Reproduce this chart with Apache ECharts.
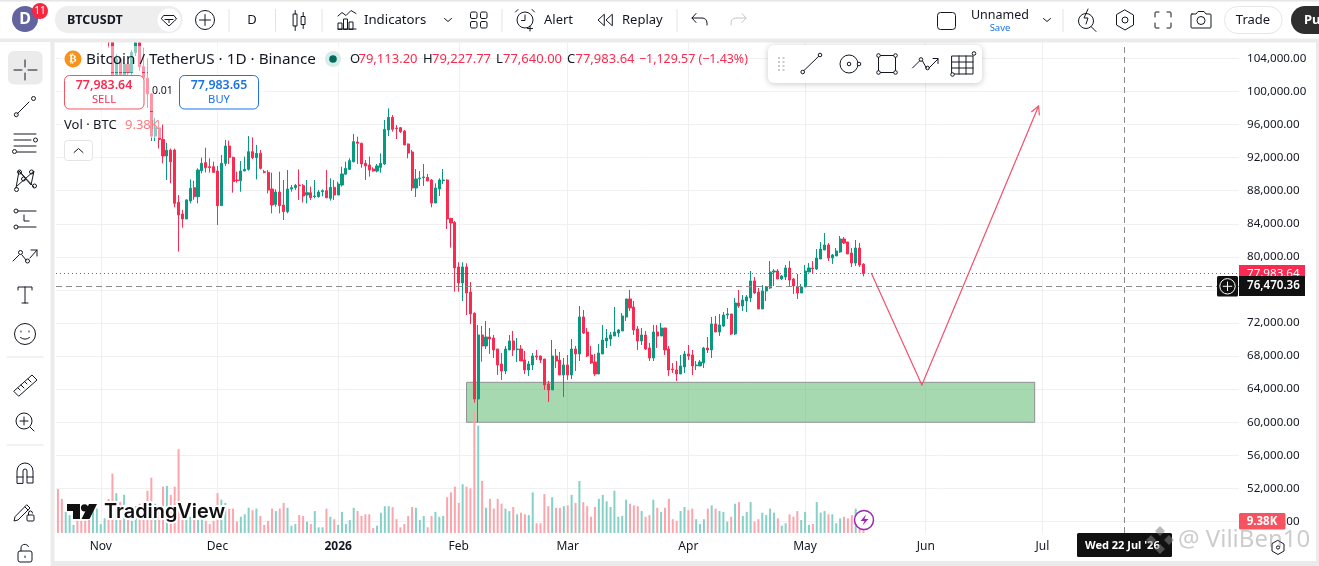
<!DOCTYPE html>
<html><head><meta charset="utf-8"><title>BTCUSDT</title>
<style>html,body{margin:0;padding:0;background:#fff;overflow:hidden}#c{width:1319px;height:566px}</style>
<script src="https://cdn.jsdelivr.net/npm/echarts@6/dist/echarts.min.js"></script></head>
<body><div id="c"></div>
<script>
const firstDay = '2025-10-21';
const dayCount = 304;
const opens = [
110600,108400,107500,110000,111000,111700,114900,114100,112900,108300,
109600,110100,110500,110600,106500,101500,103900,101300,103300,102300,
104700,105900,103000,101600,99700,94600,95600,94200,92200,92900,
92920,86590,85180,84580,86760,88370,87280,90420,91390,90900,
90900,90380,86190,91310,93400,92030,89290,89210,90380,90580,
92720,91990,92520,90300,90220,88200,86350,87840,86270,85470,
88200,88370,88690,88610,87480,87760,87280,87280,87880,88000,
87080,88410,87480,88690,90000,90580,91500,93890,93730,91310,
91110,90620,90380,90820,91230,95340,96870,95580,95620,95220,
93650,92680,88330,89450,89580,89620,89295,86510,88210,89215,
89295,84660,84175,78780,76840,78780,75750,73175,62815,70555,
69225,70310,70190,68860,67050,66200,68740,69830,68780,68860,
67530,66320,66930,68015,68015,67650,64630,63905,68015,67530,
65720,66930,65720,68860,68255,72730,70910,68135,67290,65840,
68260,69830,70070,70435,70795,71040,72730,74910,73940,71280,
69830,70555,68980,67775,70915,70435,71400,68860,66445,66320,
65840,66685,68255,68135,66845,66810,67170,68980,68740,71885,
70915,71640,72970,73095,70675,74425,74060,74665,75030,77085,
75750,73700,75875,76235,78170,78290,77325,77565,78655,77325,
76358,75630,76360,78170,78655,78535,79740,80830,81435,79865,
80105,80590,82160,81800,80470,79260,81070,79113.2];
const highs = [
113900,109000,111200,112000,111900,111950,115500,116400,113600,111500,
111000,111200,111000,110800,107200,104500,104200,104000,103500,105000,
106600,107500,105300,104000,99800,96800,96500,96000,93800,93100,
93080,87480,85670,86960,89370,89200,90700,91990,93200,91910,
91510,90990,92320,94130,94050,92115,90300,91590,92115,94610,
94450,93530,92920,90500,90500,90180,88170,90300,89290,90500,
88690,88800,90580,88800,89290,88500,89290,88085,88170,90500,
89500,89290,89090,90900,91510,91910,94860,94530,93810,91710,
92115,90830,91230,92520,96550,97960,97150,95940,95700,95340,
93700,92920,90620,90380,91230,90020,89400,88890,89495,90620,
89380,84700,84340,79340,79340,79220,76960,73295,71760,71640,
72250,71400,70555,68860,68380,69225,70555,71040,70190,69345,
68620,67410,68380,68740,68050,67650,64995,69950,68860,68500,
67775,68135,70070,69225,74060,73575,71400,69225,68260,69465,
71760,71280,70915,73940,71280,73215,74910,75995,74665,71640,
71400,71040,69590,71765,71765,72005,71400,69225,67170,67410,
68135,68620,69345,68740,67410,67530,69105,70310,72730,72850,
73095,73335,73820,73095,75030,75995,75390,75390,78290,77565,
76235,76600,76480,79500,78530,78530,77810,79020,79500,77445,
77930,76720,79020,79260,79500,80950,81800,82885,81675,80345,
81070,82525,82400,81800,81070,82040,81675,79227.77];
const lows = [
107500,106800,107400,109700,110900,110800,113500,112500,109700,106300,
108300,109500,109700,105300,99000,98900,100300,99300,101500,101300,
104300,102500,100800,98000,94000,94000,93100,91300,89300,88900,
86000,80630,83530,84580,86470,86900,86470,90100,90220,90180,
90180,83850,86190,90990,91230,87760,88970,87880,90380,90420,
91830,89370,90580,90100,87680,85260,86070,85260,84460,85260,
87880,88100,86880,86590,86470,86880,87080,87160,87320,87080,
86800,86880,87480,88490,89950,90500,91430,91230,90780,89290,
89700,90300,90220,90180,91110,94610,95140,94250,94990,93530,
91910,87960,87240,88570,88570,89175,85990,86510,87360,88810,
83370,81110,75790,75790,74660,72970,71880,62370,60000,67330,
68860,68260,67775,65720,65115,65840,68740,68015,67290,67410,
65840,65600,66320,67530,67170,63905,62455,63905,66565,65720,
63060,65115,65235,66200,67410,70675,67895,67050,65600,65840,
68260,68980,69225,70435,70310,71040,72250,73455,70555,68740,
69345,68740,67410,67410,68980,70435,68135,65600,65960,64995,
65840,65960,67530,65720,66325,66810,66565,68380,67775,70915,
70435,71520,72490,70555,70555,73820,73455,73335,74545,75510,
73700,73700,74665,76120,76480,77325,77200,77200,76480,75510,
74905,75630,76360,78170,78050,78410,79740,80830,79500,79140,
80105,80470,81555,80350,78775,78900,78775,77640];
const closes = [
108400,107500,110000,111000,111600,111450,114100,112900,110000,109600,
110100,110500,110600,106500,101500,103900,101300,103300,102300,104700,
105900,103000,101600,99700,94600,95600,94200,92200,92900,91500,
86470,85060,84580,86880,88290,87280,90500,91310,90780,90780,
90220,86190,91310,93400,92030,89090,89210,90380,90580,92720,
91990,92520,90700,90220,88085,86270,87840,86190,85470,88200,
88370,88650,88610,87360,87760,87160,87360,87840,88000,87160,
88410,87480,88810,90020,90700,91630,93930,93730,91230,90990,
90500,90380,90990,91310,95420,96870,95420,95500,95140,93530,
92560,88330,89415,89530,89660,89175,86510,88330,89295,89295,
84580,84095,78655,76840,78780,75630,73095,62815,70555,69225,
70310,70070,68740,66930,66200,68860,69830,68740,68860,67410,
66320,67050,68015,67895,67530,64510,63905,68015,67410,65720,
66930,65720,68860,68255,72730,70790,68015,67170,65840,68380,
69950,70190,70555,70915,71160,72850,74910,73820,71160,69830,
70555,68860,67775,70915,70435,71400,68740,66320,66365,65840,
66810,68255,68015,66810,66925,67290,68980,68740,71885,70915,
71765,72970,73095,70675,74425,74060,74785,75150,77085,75630,
73700,75875,76360,78170,78290,77325,77690,78655,77200,76480,
75630,76360,78290,78655,78575,79865,80950,81435,79865,80225,
80710,82160,81675,80350,79260,81070,79020,77983.64];
const volumesK = [
54,42,26,22,10,15,15,15,16,30,
30,11,18,42,73,49,38,47,16,15,
33,36,28,52,68,36,34,57,58,47,
57,103,28,16,20,18,16,18,15,11,
15,49,41,37,30,30,14,20,23,31,
28,30,21,10,15,30,27,30,37,31,
9,11,22,21,14,11,27,7,7,30,
20,17,10,26,11,16,31,27,21,23,
23,6,9,25,33,33,32,17,7,11,
21,32,31,16,21,7,21,26,20,21,
44,50,57,37,60,57,55,150,132,64,
31,42,30,42,36,30,27,32,23,25,
23,22,50,12,12,48,33,44,31,31,
33,34,47,37,64,38,33,20,32,42,
47,39,32,52,20,21,41,36,34,33,
27,20,22,41,31,26,31,42,17,15,
27,32,28,30,17,11,17,30,34,30,
27,26,14,20,36,38,21,26,38,14,
17,25,22,30,25,18,9,12,23,20,
27,16,26,10,11,38,25,27,23,23,
12,18,20,18,22,30,8,9.38];
const monthDays = ['2025-11-01','2025-12-01','2026-01-01','2026-02-01','2026-03-01','2026-04-01','2026-05-01','2026-06-01','2026-07-01'];
const monthLabels = ['Nov','Dec','2026','Feb','Mar','Apr','May','Jun','Jul'];
const lastPrice = 77983.64;
const crosshairPrice = 76470.36;
const crosshairDay = '2026-07-22';
const zoneDays = ['2026-02-03','2026-06-29'];
const zonePrices = [64830,60000];
const pathDays = ['2026-05-18','2026-05-31','2026-06-30'];
const pathPrices = [78050,64510,98250];

const dates = [];
{ const t0 = Date.parse(firstDay + 'T00:00:00Z');
  for (let i = 0; i < dayCount; i++) dates.push(new Date(t0 + i * 864e5).toISOString().slice(0, 10)); }
const UP = '#089981', DOWN = '#fb2a50', UPV = '#85d1c8', DOWNV = '#fda5ad', INK = '#131722';
const FF = '"Noto Sans",sans-serif';
const candles = opens.map((o, i) => [o, closes[i], lows[i], highs[i]]);
const volumes = volumesK.map((v, i) => ({ value: v, itemStyle: { color: closes[i] >= opens[i] ? UPV : DOWNV } }));
const fmt = v => v.toLocaleString('en-US', { minimumFractionDigits: 2, maximumFractionDigits: 2 });

/* ---- chrome drawn as graphic elements ---- */
const G = [];
const rect = (x, y, w, h, fill, o = {}) => G.push({ type: 'rect', silent: true, z: o.z || 100, shape: { x, y, width: w, height: h, r: o.r || 0 }, style: { fill, stroke: o.stroke || null, lineWidth: o.lw || 1, shadowBlur: o.blur || 0, shadowColor: o.sc, shadowOffsetY: o.sy || 0 } });
const circ = (cx, cy, r, fill, o = {}) => G.push({ type: 'circle', silent: true, z: o.z || 100, shape: { cx, cy, r }, style: { fill, stroke: o.stroke || null, lineWidth: o.lw || 1 } });
const txt = (s, x, y, font, fill, align = 'left', o = {}) => G.push({ type: 'text', silent: true, z: o.z || 102, style: { text: s, x, y, font: font + ' ' + (o.family || FF), fill, align, verticalAlign: 'middle', stroke: o.stroke || null, lineWidth: o.lw || 0 } });
let icoN = 0;
const ico = (d, o = {}) => {
  const name = 'tvIcon' + (icoN++);
  echarts.graphic.registerShape(name, echarts.graphic.extendPath(d, {}));
  G.push({ type: name, silent: true, z: o.z || 101, style: { fill: o.fill || 'none', stroke: o.fill && !o.stroke ? null : (o.stroke || INK), lineWidth: o.lw || 1, lineCap: 'round', lineJoin: 'round' } });
};

// legend veils over candles
rect(60, 46, 290, 26, 'rgba(255,255,255,0.5)', { z: 50 });
rect(60, 73, 205, 38, 'rgba(255,255,255,0.5)', { z: 50 });
rect(60, 112, 102, 26, 'rgba(255,255,255,0.5)', { z: 50 });
// bands
rect(0, 0, 1319, 39, '#ffffff');
rect(0, 0, 1319, 1.5, '#e6e6e6');
rect(0, 38.5, 1319, 4, '#ebebeb');
rect(0, 42, 50.5, 524, '#ffffff');
rect(50.5, 42, 4, 524, '#ebebeb');
rect(1316, 42, 3, 524, '#ebebeb');
rect(54, 561, 1265, 5, '#ebebeb');
// top toolbar
circ(25, 19, 13, '#62639f');
txt('D', 25, 19.5, 'bold 16px', '#fff', 'center');
circ(40, 11, 8, '#f7253e');
txt('11', 40, 11, '10px', '#fff', 'center');
rect(55, 6, 127.5, 27, '#eeeeee', { r: 13 });
txt('BTCUSDT', 67, 20, 'bold 12.5px', INK);
circ(169, 20, 11.5, '#ffffff');
ico('M164 15.5h10l2.5 3.5-7.5 7-7.5-7zM165 19.5h8M169 19.5v3');
circ(205, 20, 9.5, 'none', { stroke: INK });
ico('M205 14.5v11M199.5 20h11');
[229, 275.5, 322, 502, 677, 1063].forEach(x => ico('M' + x + ' 9.5v22', { stroke: '#e0e3eb' }));
txt('D', 252, 20, '13px', INK, 'center');
ico('M293.5 14h3.5v12h-3.5zM295.2 10.5v3.5M295.2 26v4.5M301.5 16.5h3.5v8h-3.5zM303.2 12.5v4M303.2 24.5v4');
ico('M338 16l4-3.5 4 3 5-5 5 3M338 29v-6h4v6zM343.5 29v-10h4v10zM349 29v-7h4v7zM338 29h18');
txt('Indicators', 364, 20, '13.2px', INK);
ico('M444.5 18.5l3.5 3 3.5-3');
[[470.5, 12], [480.5, 12], [470.5, 21.5], [480.5, 21.5]].forEach(p => rect(p[0], p[1], 6.5, 6.5, 'none', { stroke: INK, r: 1.5 }));
circ(525, 20, 8, 'none', { stroke: INK });
ico('M525 15v5.5h-3.5M518 9.5l-2.5 2.5M532 9.5l2.5 2.5M530 26v5M527.5 28.5h5');
txt('Alert', 544, 20, '13px', INK);
ico('M604 14.5l-6 5.5 6 5.5zM612 14.5l-6 5.5 6 5.5z');
txt('Replay', 622, 20, '13px', INK);
ico('M696 13.5l-4 4.5 4 4.5M692 18h10c3 0 5 2 5 5v2');
ico('M742 13.5l4 4.5-4 4.5M746 18h-10c-3 0-5 2-5 5v2', { stroke: '#c4c6cc' });
rect(937.5, 12.5, 18, 17, 'none', { stroke: INK, r: 3 });
txt('Unnamed', 1000, 15.5, '12.5px', INK, 'center');
txt('Save', 1000, 28, '9.5px', '#1a73e8', 'center');
ico('M1043.5 18.5l3.5 3 3.5-3');
circ(1086, 21, 7.5, 'none', { stroke: INK });
ico('M1091 26.5l5 5M1088 9l-4 9h4l-2 6');
ico('M1125 10l8.5 5v10l-8.5 5-8.5-5v-10z');
circ(1125, 20, 3, 'none', { stroke: INK });
ico('M1155 17v-4q0-1 1-1h3M1167 12h3q1 0 1 1v4M1171 23v4q0 1-1 1h-3M1159 28h-3q-1 0-1-1v-4');
ico('M1192 14h4l2-2.5h6l2 2.5h4q1 0 1 1v12q0 1-1 1h-18q-1 0-1-1v-12q0-1 1-1z');
circ(1201, 20.5, 4, 'none', { stroke: INK });
rect(1224.5, 6.5, 57.5, 27, '#ffffff', { stroke: '#e6e6e6', r: 13 });
txt('Trade', 1253, 20, '13px', INK, 'center');
rect(1291, 6, 50, 28, '#2e2e2e', { r: 14 });
txt('Pu', 1304, 20, 'bold 13px', '#ffffff');
// left toolbar
rect(8, 51, 34.5, 33.5, '#ebebeb', { r: 6 });
ico('M25 60v7M25 73v7M14 70h8M28 70h9');
ico('M17 114l12-12');
circ(16.3, 114.7, 2, 'none', { stroke: INK }); circ(33.5, 98.5, 2, 'none', { stroke: INK });
ico('M14 134h22M14 140h17M14 146h22M17 152h19');
circ(35.5, 140, 2, 'none', { stroke: INK }); circ(14.5, 151.5, 2, 'none', { stroke: INK });
ico('M16 188l3-17 12 14 3-14-17 15M19 171l15 16');
[[16.5, 189.5], [19.5, 172], [31.5, 172], [34.5, 186], [23.5, 179]].forEach(p => circ(p[0], p[1], 2, '#fff', { stroke: INK }));
ico('M18 211h18M18 227h18M24 215v6h5');
circ(16, 211, 2, 'none', { stroke: INK }); circ(16, 227, 2, 'none', { stroke: INK });
ico('M13 261l6-6M22 255l4 5M30 258l7-8M31 250h6v6');
circ(20.5, 252.5, 2, 'none', { stroke: INK }); circ(27.5, 261, 2, 'none', { stroke: INK });
ico('M18 290v-3h14v3M25 287v16M22 303h6');
circ(25, 334, 10.5, 'none', { stroke: INK });
ico('M21 331v1M29 331v1M20.5 337.5q4.5 3.5 9 0');
ico('M7 357h36', { stroke: '#e4e4e4' });
ico('M14 391l18-16 5 5-18 16zM18 388l2 2M21 385l3 3M25 382l2 2M28 379l3 3');
circ(24, 421, 8, 'none', { stroke: INK });
ico('M24 417v8M20 421h8M30 427l4 4');
ico('M7 445h36', { stroke: '#e4e4e4' });
ico('M17 483v-12a8 8 0 0 1 16 0v12h-6v-12a2 2 0 0 0-4 0v12zM17 477h6M27 477h6');
ico('M15 517l-1 4 4-1 12-12-3-3zM25 507l3 3');
rect(27, 515, 7, 6, 'none', { stroke: INK, r: 1 }); ico('M28.5 515v-2a2 2 0 0 1 4 0');
rect(18, 551, 14, 11, 'none', { stroke: INK, r: 2 });
ico('M21 551v-3a4 4 0 0 1 7.5-1.5M25 556v1.5');
// floating drawing toolbar
rect(768, 45, 214, 38, '#ffffff', { r: 6, blur: 6, sc: 'rgba(0,0,0,0.22)', sy: 1 });
[57, 61, 65, 69].forEach(y => { rect(778, y, 2, 2, '#c9cbd1'); rect(782.5, y, 2, 2, '#c9cbd1'); });
ico('M804 70.5l15-14.5'); circ(802.7, 72, 1.8, '#fff', { stroke: INK, z: 102 }); circ(820, 55, 1.8, '#fff', { stroke: INK, z: 102 });
circ(849, 64, 9, 'none', { stroke: INK }); circ(849, 64, 1.8, 'none', { stroke: INK }); circ(859, 64, 1.8, '#fff', { stroke: INK });
rect(878.5, 55.5, 17, 17, 'none', { stroke: INK });
[[878.5, 55.5], [895.5, 55.5], [878.5, 72.5], [895.5, 72.5]].forEach(p => circ(p[0], p[1], 1.8, '#fff', { stroke: INK }));
ico('M912.5 68l7-7M922.5 61l4 7M929 68l9-9M933 58.5h5v5');
circ(921, 59.5, 1.8, 'none', { stroke: INK }); circ(927.5, 68, 1.8, 'none', { stroke: INK });
ico('M952 56h21v18h-21zM952 62h21M952 68h21M959 56v18M966 56v18');
circ(974, 53.5, 1.8, '#fff', { stroke: INK, z: 102 }); circ(952.5, 74.5, 1.8, '#fff', { stroke: INK, z: 102 });
// legend text
circ(73, 59, 8.5, '#f7931a');
txt('₿', 73, 59, 'bold 11px', '#fff', 'center', { family: '"DejaVu Sans"' });
txt('Bitcoin / TetherUS · 1D · Binance', 86, 59.5, '15.3px', INK);
circ(333, 59, 8, '#d6ecea'); circ(333, 59, 3.8, '#006b5f');
const ohlcRow = [['O', INK, 350, 13], ['79,113.20', DOWN, 358.5, 13], ['H', INK, 423, 13], ['79,227.77', DOWN, 432, 13], ['L', INK, 496, 13], ['77,640.00', DOWN, 503, 13], ['C', INK, 567, 13], ['77,983.64', DOWN, 575.5, 13], ['−1,129.57 (−1.43%)', DOWN, 639, 12.4]];
ohlcRow.forEach(r => txt(r[0], r[2], 59.5, r[3] + 'px', r[1]));
rect(64.5, 75.5, 79.5, 33.5, '#fff', { stroke: '#f7525f', r: 5 });
txt('77,983.64', 104, 85, '600 12.4px', DOWN, 'center');
txt('SELL', 104, 99.5, '11.2px', DOWN, 'center');
rect(179.5, 75.5, 79, 33.5, '#fff', { stroke: '#1a73e8', r: 5 });
txt('77,983.65', 219, 85, '600 12.4px', '#1a73e8', 'center');
txt('BUY', 219, 99.5, '11.2px', '#1a73e8', 'center');
txt('0.01', 152, 91.5, '10.5px', INK);
txt('Vol · BTC', 64, 125.5, '13px', INK);
txt('9.38K', 125, 125.5, '13px', '#f77c80');
rect(64.5, 140.5, 28, 20, '#fff', { stroke: '#e4e4e4', r: 3 });
ico('M74 152.5l4.5-4 4.5 4');
// watermark logo
ico('M67 504h13v15h-7v-8h-6z', { fill: '#111' });
circ(84.5, 507.8, 3.6, '#111');
ico('M89 504h8l-7.5 15h-8z', { fill: '#111' });
txt('TradingView', 104, 512.5, '600 19.9px', '#fff', 'left', { family: 'Inter', stroke: '#fff', lw: 4, z: 90 });
txt('TradingView', 104, 512.5, '600 19.9px', '#111', 'left', { family: 'Inter', z: 91 });
// lightning badge
circ(864, 520, 9.5, '#fff', { stroke: '#9c27b0', lw: 1.5 });
ico('M866 514.5l-5.5 6.5h4l-2 4.5 6-6.5h-4z', { fill: '#9c27b0' });
// right axis tags
rect(1239, 513, 46.5, 16.5, '#f7525f', { r: 1.5 });
txt('9.38K', 1262, 521.5, 'bold 11.5px', '#ffffff', 'center');
rect(1217, 276, 21, 20.5, '#111111', { r: 1.5 });
circ(1227.5, 286.3, 7.7, 'none', { stroke: '#fff' });
ico('M1227.5 282v8.6M1223.2 286.3h8.6', { stroke: '#fff' });
// date tag + bottom right
rect(1077, 533, 95, 24, '#111111', { r: 1.5 });
txt("Wed 22 Jul '26", 1085, 545.5, 'bold 11px', '#ffffff');
ico('M1278 540.5l6 3.5v7l-6 3.5-6-3.5v-7z');
circ(1278, 547.5, 1.6, 'none', { stroke: INK });
// reposter watermark
txt('@ ViliBen10', 1178, 540.5, '24px', 'rgba(120,120,120,0.38)', 'left', { z: 103 });
ico('M1160 526l5 5-5 5-5-5zM1151 535l5 5-5 5-5-5zM1169 535l5 5-5 5-5-5zM1160 544l5 5-5 5-5-5z', { fill: 'rgba(130,130,130,0.55)', z: 103 });

const option = {
  animation: false,
  backgroundColor: '#ffffff',
  textStyle: { fontFamily: FF },
  grid: [
    { left: 56, right: 80, top: 25.3, height: 496.2 },
    { left: 56, right: 80, top: 43, height: 490 }
  ],
  xAxis: [
    { type: 'category', gridIndex: 0, data: dates, show: false, boundaryGap: true },
    { type: 'category', gridIndex: 1, data: dates, boundaryGap: true,
      axisLine: { show: false }, axisTick: { show: false },
      splitLine: { show: true, alignWithLabel: true, interval: (i, v) => monthDays.includes(v), lineStyle: { color: '#f0f0f0', width: 1 } },
      axisLabel: { interval: (i, v) => monthDays.includes(v), hideOverlap: false, margin: 8, fontSize: 12, color: INK, fontFamily: FF,
        formatter: v => { const l = monthLabels[monthDays.indexOf(v)]; return l === '2026' ? '{y|2026}' : l; },
        rich: { y: { fontWeight: 'bold', fontSize: 12, color: INK, fontFamily: FF } } } }
  ],
  yAxis: [
    { type: 'value', gridIndex: 0, position: 'right', min: 48000, max: 108000, interval: 4000,
      axisLine: { show: false }, axisTick: { show: false },
      splitLine: { show: true, lineStyle: { color: '#f0f0f0', width: 1 } },
      axisLabel: { margin: 8, fontSize: 11.6, color: INK, fontFamily: FF, padding: [0, 0, 2.6, 0], formatter: v => v >= 108000 ? '' : fmt(v) } },
    { type: 'value', gridIndex: 1, position: 'right', min: 0, max: 602.7, show: false, splitLine: { show: false } }
  ],
  graphic: { elements: G },
  series: [
    { name: 'Volume', type: 'bar', xAxisIndex: 1, yAxisIndex: 1, data: volumes, barWidth: 2, z: 1, silent: true },
    { name: 'Zone', type: 'line', xAxisIndex: 0, yAxisIndex: 0, data: [], z: 2, silent: true,
      markArea: { silent: true, itemStyle: { color: 'rgba(80,180,100,0.5)', borderColor: '#8f9195', borderWidth: 1 },
        data: [[{ xAxis: zoneDays[0], yAxis: zonePrices[0] }, { xAxis: zoneDays[1], yAxis: zonePrices[1] }]] },
      markLine: { silent: true, symbol: 'none', lineStyle: { type: [1, 3], color: '#e8344f', width: 1 },
        label: { show: true, position: 'end', distance: 0, formatter: () => fmt(lastPrice), backgroundColor: DOWN, color: '#fff', fontSize: 11.6, fontFamily: FF, padding: [2.5, 0, 2.5, 8], width: 58, fontWeight: 'normal' },
        data: [{ yAxis: lastPrice }] } },
    { name: 'BTCUSDT', type: 'candlestick', xAxisIndex: 0, yAxisIndex: 0, data: candles, barWidth: 2.6, z: 3, silent: true,
      itemStyle: { color: UP, color0: DOWN, borderColor: UP, borderColor0: DOWN, borderWidth: 1 } },
    { name: 'Path', type: 'custom', xAxisIndex: 0, yAxisIndex: 0, z: 4, silent: true, clip: false,
      data: [[dates.indexOf(pathDays[0]), pathPrices[0], dates.indexOf(pathDays[1]), pathPrices[1], dates.indexOf(pathDays[2]), pathPrices[2]]],
      renderItem: (params, api) => {
        const a = api.coord([api.value(0), api.value(1)]), b = api.coord([api.value(2), api.value(3)]), c = api.coord([api.value(4), api.value(5)]);
        const ang = Math.atan2(c[1] - b[1], c[0] - b[0]), L = 9.5, W = 0.48;
        const w1 = [c[0] - L * Math.cos(ang - W), c[1] - L * Math.sin(ang - W)], w2 = [c[0] - L * Math.cos(ang + W), c[1] - L * Math.sin(ang + W)];
        const st = { stroke: '#f2506e', lineWidth: 1.2, fill: null };
        return { type: 'group', children: [
          { type: 'polyline', shape: { points: [a, b, c] }, style: st },
          { type: 'polyline', shape: { points: [w1, c, w2] }, style: st } ] };
      } },
    { name: 'Crosshair', type: 'line', xAxisIndex: 0, yAxisIndex: 0, data: [], z: 6, silent: true,
      markLine: { silent: true, symbol: 'none', lineStyle: { type: [6, 4], color: '#8c8c8c', width: 1 },
        label: { show: true, position: 'end', distance: 0, formatter: () => fmt(crosshairPrice), backgroundColor: '#111111', color: '#fff', fontSize: 11.6, fontWeight: 600, fontFamily: FF, padding: [4, 0, 4, 8], width: 58 },
        data: [{ yAxis: crosshairPrice }] } },
    { name: 'CrosshairV', type: 'line', xAxisIndex: 1, yAxisIndex: 1, data: [], z: 6, silent: true,
      markLine: { silent: true, symbol: 'none', lineStyle: { type: [6, 4], color: '#8c8c8c', width: 1 }, label: { show: false },
        data: [{ xAxis: crosshairDay }] } }
  ]
};
const chart = echarts.init(document.getElementById('c'), null, { renderer: 'canvas', width: 1319, height: 566 });
chart.setOption(option);
</script></body></html>
